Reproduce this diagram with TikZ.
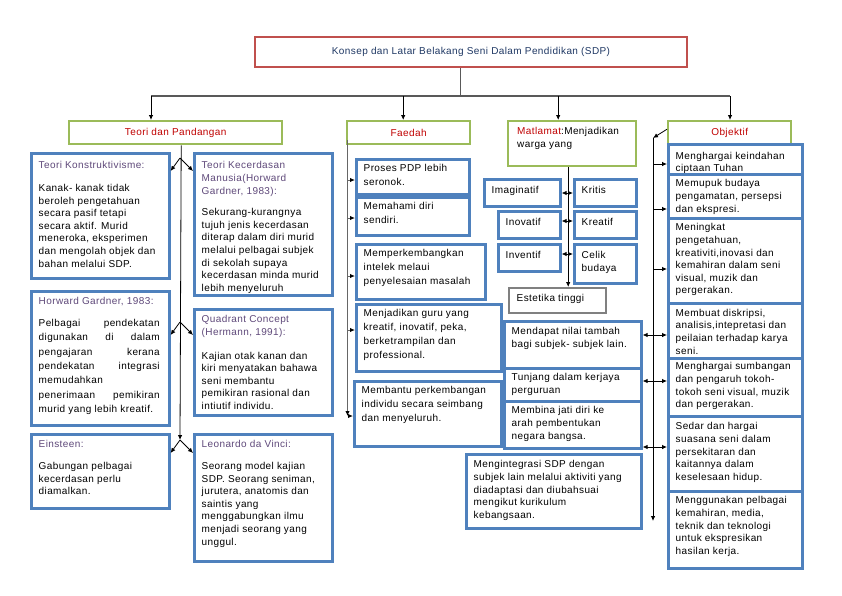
\documentclass[tikz,border=0pt]{standalone}
\usepackage{fontspec}
\setmainfont[LetterSpace=4]{Liberation Sans}
\usetikzlibrary{arrows.meta, calc, positioning}

\definecolor{ttlred}{HTML}{C0504D}
\definecolor{ttlnavy}{HTML}{1F3864}
\definecolor{hdgreen}{HTML}{9BBB59}
\definecolor{hdred}{HTML}{C00000}
\definecolor{bxblue}{HTML}{4F81BD}
\definecolor{subpurple}{HTML}{5F497A}
\definecolor{lngray}{HTML}{595959}

\newcommand{\subttl}[1]{{\color{subpurple}#1}}

\begin{document}
\begin{tikzpicture}[
    x=1pt, y=-1pt,
    >={Latex[length=5pt,width=4.5pt]},
    font=\fontsize{10}{12.6}\selectfont,
    titlebox/.style={draw=ttlred, line width=2pt, fill=white, anchor=north west, text=ttlnavy},
    headbox/.style={draw=hdgreen, line width=2.4pt, fill=white, anchor=north west, text=hdred},
    bluebox/.style={draw=bxblue, line width=2.6pt, fill=white, anchor=north west},
    greybox/.style={draw=gray, line width=2pt, fill=white, anchor=north west},
    txt/.style={anchor=north west, align=left, inner sep=0pt, text=black, xshift=8.5pt, yshift=-7.4pt},
    loose/.style={font=\fontsize{10}{14}\selectfont},
    trunk/.style={draw=lngray, line width=2pt},
    stem/.style={draw=lngray, line width=1pt},
    link/.style={draw=black, line width=0.8pt},
    gline/.style={draw=gray!80!black, line width=1pt, -{Latex[length=5pt,width=4.5pt,black]}}
]
\useasboundingbox[fill=white] (0,0) rectangle (842,595);

% --- title and the four headings ---
\node[titlebox, minimum width=432, minimum height=30] (title) at (254,36) {Konsep dan Latar Belakang Seni Dalam Pendidikan (SDP)};

\node[headbox, minimum width=213, minimum height=23] (teori) at (68,120) {Teori dan Pandangan};
\node[headbox, minimum width=123, minimum height=23] (faedah) at (346,120) {Faedah};
\node[headbox, minimum width=128, minimum height=45,
      label={[txt, xshift=1.5pt]north west:{{\color{hdred}Matlamat}:Menjadikan\\warga yang}}] (matlamat) at (507,120) {};
\node[headbox, minimum width=123, minimum height=23] (objektif) at (667,120) {Objektif};

% --- Teori dan Pandangan ---
\node[bluebox, minimum width=138, minimum height=125,
      label={[txt, yshift=-2pt]north west:{\subttl{Teori Konstruktivisme:}\\[10pt]Kanak- kanak tidak\\beroleh pengetahuan\\secara pasif tetapi\\secara aktif. Murid\\meneroka, eksperimen\\dan mengolah objek dan\\bahan melalui SDP.}}] (k1) at (30,152) {};
\node[bluebox, minimum width=138, minimum height=142,
      label={[txt, yshift=-2pt]north west:{\subttl{Teori Kecerdasan}\\\subttl{Manusia(Horward}\\\subttl{Gardner, 1983):}\\[9pt]Sekurang-kurangnya\\tujuh jenis kecerdasan\\diterap dalam diri murid\\melalui pelbagai subjek\\di sekolah supaya\\kecerdasan minda murid\\lebih menyeluruh}}] (k2) at (193,152) {};
\node[bluebox, minimum width=138, minimum height=134,
      label={[txt, text width=121pt, align=justify, font=\fontsize{10}{14.3}\selectfont]north west:{\subttl{Horward Gardner, 1983:}\\[7.5pt]Pelbagai pendekatan\linebreak digunakan di dalam\linebreak pengajaran kerana\linebreak pendekatan integrasi\linebreak memudahkan\linebreak penerimaan pemikiran\linebreak murid yang lebih kreatif.}}] (k3) at (30,290) {};
\node[bluebox, minimum width=138, minimum height=106,
      label={[txt]north west:{\subttl{Quadrant Concept}\\\subttl{(Hermann, 1991):}\\[11pt]Kajian otak kanan dan\\kiri menyatakan bahawa\\seni membantu\\pemikiran rasional dan\\intiutif individu.}}] (k4) at (193,308) {};
\node[bluebox, minimum width=138, minimum height=74,
      label={[txt]north west:{\subttl{Einsteen:}\\[9pt]Gabungan pelbagai\\kecerdasan perlu\\diamalkan.}}] (k5) at (30,433) {};
\node[bluebox, minimum width=138, minimum height=127,
      label={[txt]north west:{\subttl{Leonardo da Vinci:}\\[9pt]Seorang model kajian\\SDP. Seorang seniman,\\jurutera, anatomis dan\\saintis yang\\menggabungkan ilmu\\menjadi seorang yang\\unggul.}}] (k6) at (193,433) {};

% --- Faedah ---
\node[bluebox, minimum width=113, minimum height=35,
      label={[txt, loose, yshift=1.5pt]north west:{Proses PDP lebih\\seronok.}}] (fa1) at (355,158) {};
\node[bluebox, minimum width=113, minimum height=38,
      label={[txt, loose, yshift=1.5pt]north west:{Memahami diri\\sendiri.}}] (fa2) at (355,196) {};
\node[bluebox, minimum width=129, minimum height=55,
      label={[txt, loose, yshift=1.5pt]north west:{Memperkembangkan\\intelek melaui\\penyelesaian masalah}}] (fa3) at (355,243) {};
\node[bluebox, minimum width=145, minimum height=67,
      label={[txt, loose, yshift=1.5pt]north west:{Menjadikan guru yang\\kreatif, inovatif, peka,\\berketrampilan dan\\professional.}}] (fa4) at (355,303) {};
\node[bluebox, minimum width=147, minimum height=65,
      label={[txt, loose, yshift=1.5pt]north west:{Membantu perkembangan\\individu secara seimbang\\dan menyeluruh.}}] (fa5) at (353,380) {};

% --- Matlamat ---
\node[bluebox, minimum width=76, minimum height=27, label={[txt, yshift=-1pt]north west:{Imaginatif}}] (ima) at (483,178) {};
\node[bluebox, minimum width=62, minimum height=27, label={[txt, yshift=-1pt]north west:{Kritis}}] (kri) at (573,178) {};
\node[bluebox, minimum width=62, minimum height=27, label={[txt, yshift=-1pt]north west:{Inovatif}}] (ino) at (497,210) {};
\node[bluebox, minimum width=62, minimum height=27, label={[txt, yshift=-1pt]north west:{Kreatif}}] (kre) at (573,210) {};
\node[bluebox, minimum width=62, minimum height=27, label={[txt, yshift=-1pt]north west:{Inventif}}] (inv) at (497,243) {};
\node[bluebox, minimum width=62, minimum height=39, label={[txt, yshift=-1pt]north west:{Celik\\budaya}}] (cel) at (573,243) {};
\node[greybox, minimum width=97, minimum height=25, label={[txt]north west:{Estetika tinggi}}] (est) at (508,287) {};

\node[bluebox, minimum width=137, minimum height=47,
      label={[txt]north west:{Mendapat nilai tambah\\bagi subjek- subjek lain.}}] (md1) at (503,320) {};
\node[bluebox, minimum width=137, minimum height=33,
      label={[txt, yshift=1pt]north west:{Tunjang dalam kerjaya\\perguruan}}] (md2) at (503,367) {};
\node[bluebox, minimum width=137, minimum height=47,
      label={[txt, yshift=1pt]north west:{Membina jati diri ke\\arah pembentukan\\negara bangsa.}}] (md3) at (503,400) {};
\node[bluebox, minimum width=175, minimum height=74,
      label={[txt]north west:{Mengintegrasi SDP dengan\\subjek lain melalui aktiviti yang\\diadaptasi dan diubahsuai\\mengikut kurikulum\\kebangsaan.}}] (mi) at (465,453) {};

% --- Objektif ---
\node[bluebox, minimum width=134, minimum height=30,
      label={[txt, yshift=-1.5pt]north west:{Menghargai keindahan\\ciptaan Tuhan}}] (ob1) at (667,143) {};
\node[bluebox, minimum width=134, minimum height=44,
      label={[txt, yshift=1pt]north west:{Memupuk budaya\\pengamatan, persepsi\\dan ekspresi.}}] (ob2) at (667,173) {};
\node[bluebox, minimum width=134, minimum height=85,
      label={[txt, yshift=1pt]north west:{Meningkat\\pengetahuan,\\kreativiti,inovasi dan\\kemahiran dalam seni\\visual, muzik dan\\pergerakan.}}] (ob3) at (667,217) {};
\node[bluebox, minimum width=134, minimum height=55,
      label={[txt, yshift=0.5pt]north west:{Membuat diskripsi,\\analisis,intepretasi dan\\peilaian terhadap karya\\seni.}}] (ob4) at (667,302) {};
\node[bluebox, minimum width=134, minimum height=58,
      label={[txt, yshift=2pt]north west:{Menghargai sumbangan\\dan pengaruh tokoh-\\tokoh seni visual, muzik\\dan pergerakan.}}] (ob5) at (667,357) {};
\node[bluebox, minimum width=134, minimum height=75,
      label={[txt]north west:{Sedar dan hargai\\suasana seni dalam\\persekitaran dan\\kaitannya dalam\\keselesaan hidup.}}] (ob6) at (667,415) {};
\node[bluebox, minimum width=134, minimum height=77,
      label={[txt, yshift=1pt]north west:{Menggunakan pelbagai\\kemahiran, media,\\teknik dan teknologi\\untuk ekspresikan\\hasilan kerja.}}] (ob7) at (667,490) {};

% --- trunk from the title ---
\coordinate (barL) at (151,96);
\coordinate (barR) at (730,96);
\draw[trunk] (barL) -- (barR);
\draw[stem] ([xshift=-11]title.south) -- ([xshift=-11]title.south |- barL);
\draw[link, ->] (barL) -- (barL |- teori.north);
\draw[link, ->] ([xshift=-5.5]faedah.north |- barL) -- ([xshift=-5.5]faedah.north);
\draw[link, ->] ([xshift=-14]matlamat.north |- barL) -- ([xshift=-14]matlamat.north);
\draw[link, ->] (barR) -- (barR |- objektif.north);

% --- Teori forks ---
\coordinate (fk1) at (180,158);
\coordinate (fk2) at (180,322);
\coordinate (fk3) at (180,440);
\draw[link, ->] ([xshift=5.5]teori.south) -- (fk3);
\foreach \f/\l/\r in {fk1/k1/k2, fk2/k3/k4, fk3/k5/k6} {
    \draw[link, ->] (\f) -- ($(\f -| \l.east)+(0,13)$);
    \draw[link, ->] (\f) -- ($(\f -| \r.west)+(0,13)$);
}

% --- Faedah spine ---
\coordinate (fdtop) at ($(faedah.south west)+(1.5,-5)$);
\coordinate (fdbot) at (fdtop |- 0,416);
\draw[gline] (fdtop) -- (fdbot);
\foreach \b/\y in {fa1/180, fa2/218, fa3/276, fa4/330}
    \draw[gline] (fdtop |- 0,\y) -- (\b.west |- 0,\y);
\draw[gline] (fdbot) -- (fdbot -| fa5.west);

% --- Matlamat spine ---
\draw[link, ->] ([xshift=-4]matlamat.south) -- ([xshift=-4]matlamat.south |- est.north);
\foreach \l/\r/\y in {ima/kri/193, ino/kre/221, inv/cel/254}
    \draw[link, <->] (\l.east |- 0,\y) -- (\r.west |- 0,\y);

% --- Objektif spine ---
\coordinate (obtop) at (653,138);
\coordinate (obbot) at (653,521);
\draw[link, ->] ([yshift=3.5]objektif.west) -- (obtop);
\draw[link, ->] (obtop) -- (obbot);
\foreach \b/\y in {ob1/164, ob2/209, ob3/269}
    \draw[link, ->] (obtop |- 0,\y) -- (\b.west |- 0,\y);
\foreach \m/\b/\y in {md1/ob4/335, md2/ob5/381, md3/ob6/447} {
    \draw[link, ->] (obtop |- 0,\y) -- (\m.east |- 0,\y);
    \draw[link, ->] (obtop |- 0,\y) -- (\b.west |- 0,\y);
}

\end{tikzpicture}
\end{document}
